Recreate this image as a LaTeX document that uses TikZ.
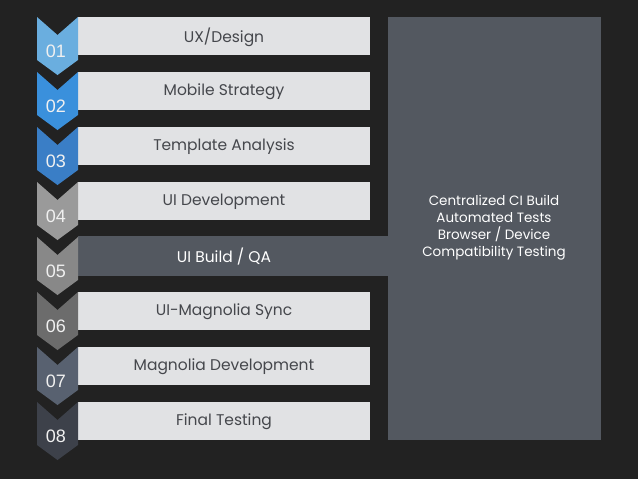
\documentclass[tikz,border=0pt]{standalone}
\usepackage{fontspec}
\setmainfont{Poppins}
\newfontfamily\numfont{Liberation Sans}
\definecolor{bg}{HTML}{222222}
\definecolor{boxc}{HTML}{E1E2E4}
\definecolor{panel}{HTML}{535860}
\definecolor{txt}{HTML}{45474C}
\definecolor{c1}{HTML}{6AAEDF}
\definecolor{c2}{HTML}{3A90DC}
\definecolor{c3}{HTML}{3A7EC6}
\definecolor{c4}{HTML}{9A9A9A}
\definecolor{c5}{HTML}{888888}
\definecolor{c6}{HTML}{6C6C6C}
\definecolor{c7}{HTML}{586170}
\definecolor{c8}{HTML}{3D414A}
\tikzset{
 stepbox/.style={fill=boxc,draw=none,text=txt,font=\fontsize{15.5}{18}\selectfont},
 numtxt/.style={text=white!88!gray,font=\numfont\fontsize{18}{20}\selectfont,anchor=center},
}
\begin{document}
\begin{tikzpicture}[x=1pt,y=-1pt]
\fill[bg] (0,0) rectangle (638,479);
\useasboundingbox (0,0) rectangle (638,479);
\fill[panel] (388,17) rectangle (601,440);
\node[text=white,align=center,font=\fontsize{13.5}{17}\selectfont] (panel) at (494,228) {Centralized CI Build\\Automated Tests\\Browser / Device\\Compatibility Testing};
\foreach \i/\t/\c in {1/{UX/Design}/c1,2/{Mobile Strategy}/c2,3/{Template Analysis}/c3,4/{UI Development}/c4,5/{UI Build / QA}/c5,6/{UI-Magnolia Sync}/c6,7/{Magnolia Development}/c7,8/{Final Testing}/c8}{
  \pgfmathsetmacro{\y}{17+55*(\i-1)}
  \ifnum\i=5
    \fill[panel] (78,\y-1) rectangle (390,\y+39);
    \node[text=white,font=\fontsize{15.5}{18}\selectfont] (s\i) at (224,\y+20) {\t};
  \else
    \fill[boxc] (78,\y) rectangle (370,\y+38);
    \node[stepbox] (s\i) at (224,\y+20) {\t};
  \fi
  \fill[\c] (37,\y) -- (57.5,\y+18) -- (78,\y) -- (78,\y+43) -- (57.5,\y+58) -- (37,\y+43) -- cycle;
  \node[numtxt] (n\i) at (56,\y+34) {0\i};
}
\end{tikzpicture}
\end{document}
